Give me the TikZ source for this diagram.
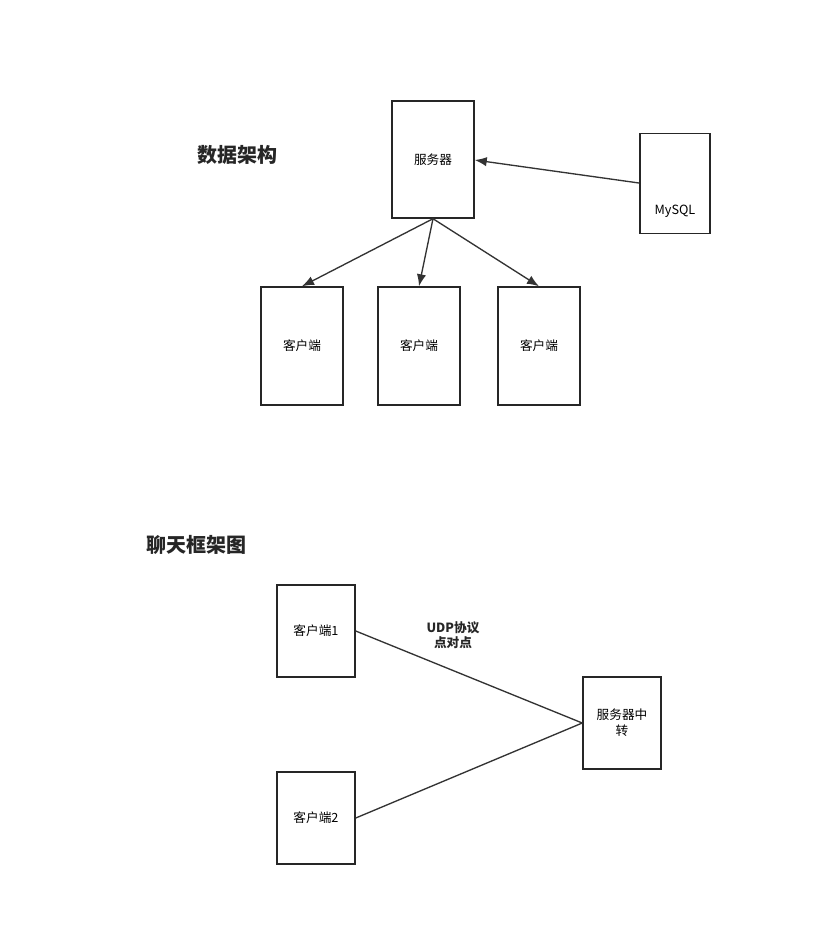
\documentclass[tikz,border=0pt]{standalone}
\usepackage{fontspec}
\setmainfont{Noto Sans CJK SC}
\usetikzlibrary{shapes.geometric,arrows.meta}
\begin{document}
\begin{tikzpicture}[x=0.75pt,y=-0.75pt,
  box/.style={draw=black!85,line width=1.1pt,fill=white,font=\fontsize{9.5}{12}\selectfont,align=center,inner sep=1pt},
  title/.style={font=\fontsize{15}{18}\selectfont\bfseries,text=black!85},
  arr/.style={draw=black!80,line width=1pt,-{Latex[length=9pt,width=7pt]}},
  ln/.style={draw=black!80,line width=1pt}]
\fill[white] (0,0) rectangle (816,925);
\useasboundingbox (0,0) rectangle (816,925);
\node[title] (t1) at (237,155) {数据架构};
\node[box,minimum width=61.5pt,minimum height=87.75pt] (srv) at (433,159.5) {服务器};
\node[box,draw=none,fill=none] (srvl) at (433,160) {};
\node[cylinder,shape border rotate=90,draw=black!85,line width=1.1pt,minimum width=52.5pt,minimum height=75pt,aspect=0.3,inner sep=0pt] (db) at (675,184) {};
\node[font=\fontsize{9.5}{12}\selectfont] (dbl) at (675,211) {MySQL};
\node[box,minimum width=61.5pt,minimum height=88.5pt] (c1) at (302,346) {客户端};
\node[box,minimum width=61.5pt,minimum height=88.5pt] (c2) at (419,346) {客户端};
\node[box,minimum width=61.5pt,minimum height=88.5pt] (c3) at (539,346) {客户端};
\coordinate (dbw) at (639,183);
\draw[arr] (dbw) -- (srv.east |- 0,160);
\draw[arr] (srv.south) -- (c1.north);
\draw[arr] (srv.south) -- (c2.north);
\draw[arr] (srv.south) -- (c3.north);
\node[title] (t2) at (196,545) {聊天框架图};
\node[box,minimum width=58.5pt,minimum height=69pt] (k1) at (316,631) {客户端1};
\node[box,minimum width=58.5pt,minimum height=69pt] (k2) at (316,818) {客户端2};
\node[box,minimum width=58.5pt,minimum height=69pt] (rel) at (622,723) {服务器中\\转};
\draw[ln] (k1.east) -- (rel.west);
\draw[ln] (k2.east) -- (rel.west);
\node[font=\fontsize{9.5}{11}\selectfont\bfseries,align=center,text=black!85] (udp) at (453,635) {UDP协议\\点对点};
\end{tikzpicture}
\end{document}
